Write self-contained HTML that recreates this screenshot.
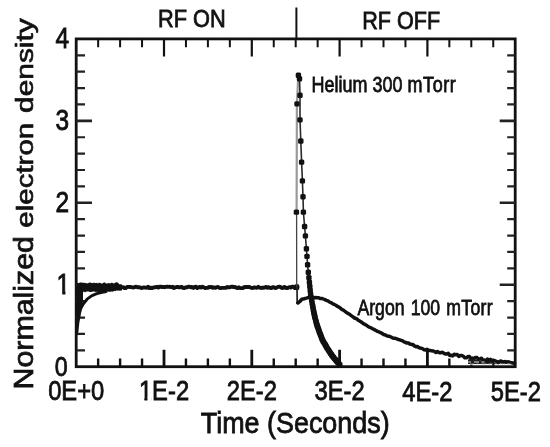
<!DOCTYPE html>
<html lang="en"><head><meta charset="utf-8"><title>Normalized electron density vs time</title>
<style>
html,body{margin:0;padding:0;background:#fff;}
body{width:550px;height:447px;overflow:hidden;}
svg{display:block;filter:blur(0.45px);}
</style></head><body>
<svg width="550" height="447" viewBox="0 0 550 447">
<rect width="550" height="447" fill="#fff"/>
<rect x="76.20" y="38.90" width="439.00" height="327.80" fill="none" stroke="#111" stroke-width="2.8"/>
<path d="M164.00 38.90v17.5 M251.80 38.90v17.5 M339.60 38.90v17.5 M427.40 38.90v17.5" stroke="#111" stroke-width="2.2" fill="none"/>
<path d="M98.15 38.90v8.4 M120.10 38.90v8.4 M142.05 38.90v8.4 M185.95 38.90v8.4 M207.90 38.90v8.4 M229.85 38.90v8.4 M273.75 38.90v8.4 M295.70 38.90v8.4 M317.65 38.90v8.4 M361.55 38.90v8.4 M383.50 38.90v8.4 M405.45 38.90v8.4 M449.35 38.90v8.4 M471.30 38.90v8.4 M493.25 38.90v8.4" stroke="#111" stroke-width="2.0" fill="none"/>
<path d="M164.00 366.70v-17.0 M251.80 366.70v-17.0 M339.60 366.70v-17.0 M427.40 366.70v-17.0" stroke="#111" stroke-width="2.8" fill="none"/>
<path d="M98.15 366.70v-8.2 M120.10 366.70v-8.2 M142.05 366.70v-8.2 M185.95 366.70v-8.2 M207.90 366.70v-8.2 M229.85 366.70v-8.2 M273.75 366.70v-8.2 M295.70 366.70v-8.2 M317.65 366.70v-8.2 M361.55 366.70v-8.2 M383.50 366.70v-8.2 M405.45 366.70v-8.2 M449.35 366.70v-8.2 M471.30 366.70v-8.2 M493.25 366.70v-8.2" stroke="#111" stroke-width="2.4" fill="none"/>
<path d="M76.20 284.75h15.8 M76.20 202.80h15.8 M76.20 120.85h15.8" stroke="#222" stroke-width="2.6" fill="none"/>
<path d="M76.20 350.31h8.8 M76.20 333.92h8.8 M76.20 317.53h8.8 M76.20 301.14h8.8 M76.20 268.36h8.8 M76.20 251.97h8.8 M76.20 235.58h8.8 M76.20 219.19h8.8 M76.20 186.41h8.8 M76.20 170.02h8.8 M76.20 153.63h8.8 M76.20 137.24h8.8 M76.20 104.46h8.8 M76.20 88.07h8.8 M76.20 71.68h8.8 M76.20 55.29h8.8" stroke="#222" stroke-width="2.2" fill="none"/>
<path d="M515.20 284.75h-15.5 M515.20 202.80h-15.5 M515.20 120.85h-15.5" stroke="#222" stroke-width="2.6" fill="none"/>
<path d="M515.20 350.31h-8.0 M515.20 333.92h-8.0 M515.20 317.53h-8.0 M515.20 301.14h-8.0 M515.20 268.36h-8.0 M515.20 251.97h-8.0 M515.20 235.58h-8.0 M515.20 219.19h-8.0 M515.20 186.41h-8.0 M515.20 170.02h-8.0 M515.20 153.63h-8.0 M515.20 137.24h-8.0 M515.20 104.46h-8.0 M515.20 88.07h-8.0 M515.20 71.68h-8.0 M515.20 55.29h-8.0" stroke="#222" stroke-width="2.2" fill="none"/>
<path d="M296.4 7.5V38.90" stroke="#111" stroke-width="2" fill="none"/>
<path d="M77.0 282.8 L78.0 283.2 L79.0 283.1 L80.0 282.4 L81.0 282.4 L82.0 282.4 L83.0 282.9 L84.0 282.5 L85.0 283.2 L86.0 283.1 L87.0 283.7 L88.0 283.5 L89.0 282.5 L90.0 282.7 L91.0 282.6 L92.0 283.2 L93.0 283.1 L94.0 282.4 L95.0 283.3 L96.0 282.7 L97.0 282.9 L98.0 283.4 L99.0 282.6 L100.0 283.0 L101.0 283.3 L102.0 283.7 L103.0 282.9 L104.0 282.5 L105.0 282.4 L106.0 283.4 L107.0 283.5 L108.0 283.3 L109.0 283.1 L110.0 283.5 L111.0 283.0 L112.0 282.4 L113.0 283.2 L114.0 283.5 L115.0 282.8 L116.0 282.3 L117.0 282.5 L118.0 282.4 L119.0 284.1 L120.0 284.4 L121.0 284.0 L122.0 284.7 L122.0 290.8 L121.0 290.3 L120.0 290.9 L119.0 290.3 L118.0 291.0 L117.0 290.3 L116.0 290.8 L115.0 291.2 L114.0 290.8 L113.0 291.7 L112.0 291.5 L111.0 291.5 L110.0 292.0 L109.0 291.5 L108.0 291.7 L107.0 291.5 L106.0 291.9 L105.0 292.1 L104.0 291.9 L103.0 292.2 L102.0 291.4 L101.0 291.6 L100.0 292.4 L99.0 292.0 L98.0 292.1 L97.0 291.7 L96.0 292.0 L95.0 291.8 L94.0 291.5 L93.0 291.4 L92.0 291.7 L91.0 292.0 L90.0 292.3 L89.0 291.4 L88.0 291.6 L87.0 291.4 L86.0 291.8 L85.0 292.4 L84.0 291.6 L83.0 292.3 L82.0 291.4 L81.0 291.8 L80.0 291.9 L79.0 291.7 L78.0 291.4 L77.0 291.5Z" fill="#111"/>
<path d="M118.0 287.9 L119.3 287.9 L120.6 287.1 L121.9 287.3 L123.2 287.2 L124.5 288.0 L125.8 288.1 L127.1 286.9 L128.4 286.9 L129.7 287.0 L131.0 287.0 L132.3 287.4 L133.6 287.5 L134.9 287.0 L136.2 286.7 L137.5 287.3 L138.8 287.2 L140.1 287.5 L141.4 288.1 L142.7 287.7 L144.0 287.4 L145.3 287.6 L146.6 287.7 L147.9 286.7 L149.2 288.0 L150.5 287.8 L151.8 288.0 L153.1 287.8 L154.4 287.2 L155.7 287.2 L157.0 286.8 L158.3 287.6 L159.6 286.7 L160.9 286.8 L162.2 287.0 L163.5 286.9 L164.8 287.2 L166.1 286.7 L167.4 286.7 L168.7 286.9 L170.0 286.8 L171.3 287.2 L172.6 286.7 L173.9 288.0 L175.2 287.6 L176.5 286.9 L177.8 287.0 L179.1 287.2 L180.4 287.2 L181.7 286.8 L183.0 287.9 L184.3 288.1 L185.6 287.3 L186.9 287.4 L188.2 286.8 L189.5 286.8 L190.8 287.2 L192.1 287.0 L193.4 287.9 L194.7 286.9 L196.0 286.7 L197.3 288.1 L198.6 287.4 L199.9 286.9 L201.2 287.5 L202.5 286.7 L203.8 287.4 L205.1 288.1 L206.4 287.9 L207.7 287.7 L209.0 287.0 L210.3 287.2 L211.6 286.9 L212.9 287.8 L214.2 287.4 L215.5 287.8 L216.8 287.1 L218.1 287.0 L219.4 287.9 L220.7 288.1 L222.0 287.9 L223.3 287.9 L224.6 287.9 L225.9 287.8 L227.2 287.0 L228.5 287.4 L229.8 287.2 L231.1 286.7 L232.4 286.7 L233.7 287.1 L235.0 287.0 L236.3 287.7 L237.6 288.1 L238.9 287.3 L240.2 288.1 L241.5 288.1 L242.8 288.1 L244.1 287.2 L245.4 287.0 L246.7 287.0 L248.0 286.9 L249.3 287.0 L250.6 287.6 L251.9 288.0 L253.2 287.9 L254.5 287.4 L255.8 287.6 L257.1 287.8 L258.4 286.8 L259.7 287.6 L261.0 288.0 L262.3 287.8 L263.6 287.8 L264.9 287.4 L266.2 286.9 L267.5 287.8 L268.8 287.1 L270.1 287.9 L271.4 288.1 L272.7 287.2 L274.0 287.3 L275.3 288.1 L276.6 287.7 L277.9 286.9 L279.2 286.8 L280.5 286.9 L281.8 288.0 L283.1 287.9 L284.4 286.9 L285.7 287.9 L287.0 288.1 L288.3 287.6 L289.6 287.2 L290.9 287.5 L292.2 286.8 L293.5 286.7 L294.8 288.1 L296.1 287.6 L297.4 287.0" stroke="#111" stroke-width="3.9" fill="none" stroke-linejoin="round" stroke-linecap="round" />
<rect x="294.6" y="284.2" width="4.6" height="5.8" rx="1.2" fill="#111"/>
<path d="M79.2 313.0 L80.2 309.5 L83.0 304.3 L87.4 298.9 L92.0 295.6 L96.8 293.6 L101.0 292.5 L106.0 291.5" stroke="#111" stroke-width="3.0" fill="none" stroke-linejoin="round" stroke-linecap="round" />
<path d="M77 284 L83 290 L83 300 L81.6 310 L80.2 318 L79.3 323 L78.4 332 L77 336Z" fill="#111"/>
<path d="M296.7 287.0 L296.6 212.0" stroke="#444" stroke-width="1.3" fill="none" stroke-linejoin="round" stroke-linecap="round" />
<path d="M296.6 212.0 L296.9 104.0 L298.3 76.0" stroke="#9a9a9a" stroke-width="2.2" fill="none" stroke-linejoin="round" stroke-linecap="round" />
<path d="M297.0 287.0 L297.2 302.5 L298.5 303.3" stroke="#222" stroke-width="1.7" fill="none" stroke-linejoin="round" stroke-linecap="round" />
<path d="M298.4 75.3 L299.5 78.8 L300.0 95.3 L300.0 119.9 L300.8 141.0 L301.6 162.1 L302.4 180.9 L303.0 196.8 L303.4 212.1 L304.6 226.5 L305.4 235.9 L306.4 248.8 L307.0 256.4 L307.6 264.8 L308.3 272.3 L308.9 277.6" stroke="#2a2a2a" stroke-width="1.6" fill="none" stroke-linejoin="round" stroke-linecap="round" />
<g fill="#111"><rect x="295.7" y="72.6" width="5.4" height="5.4" rx="1.5"/><rect x="296.8" y="76.1" width="5.4" height="5.4" rx="1.5"/><rect x="297.3" y="92.6" width="5.4" height="5.4" rx="1.5"/><rect x="297.3" y="117.2" width="5.4" height="5.4" rx="1.5"/><rect x="298.1" y="138.3" width="5.4" height="5.4" rx="1.5"/><rect x="298.9" y="159.4" width="5.4" height="5.4" rx="1.5"/><rect x="299.7" y="178.2" width="5.4" height="5.4" rx="1.5"/><rect x="300.3" y="194.1" width="5.4" height="5.4" rx="1.5"/><rect x="300.7" y="209.4" width="5.4" height="5.4" rx="1.5"/><rect x="301.9" y="223.8" width="5.4" height="5.4" rx="1.5"/><rect x="302.7" y="233.2" width="5.4" height="5.4" rx="1.5"/><rect x="303.7" y="246.1" width="5.4" height="5.4" rx="1.5"/><rect x="304.3" y="253.7" width="5.4" height="5.4" rx="1.5"/><rect x="304.9" y="262.1" width="5.4" height="5.4" rx="1.5"/><rect x="305.6" y="269.6" width="5.4" height="5.4" rx="1.5"/><rect x="306.2" y="274.9" width="5.4" height="5.4" rx="1.5"/><rect x="294.3" y="101.2" width="5.4" height="5.4" rx="1.5"/><rect x="293.7" y="209.4" width="5.4" height="5.4" rx="1.5"/><rect x="306.7" y="279.5" width="5.4" height="5.4" rx="1.5"/><rect x="307.1" y="283.7" width="5.4" height="5.4" rx="1.5"/><rect x="307.5" y="287.6" width="5.4" height="5.4" rx="1.5"/><rect x="307.9" y="291.2" width="5.4" height="5.4" rx="1.5"/><rect x="308.4" y="294.4" width="5.4" height="5.4" rx="1.5"/><rect x="309.0" y="297.4" width="5.4" height="5.4" rx="1.5"/><rect x="309.4" y="300.2" width="5.4" height="5.4" rx="1.5"/><rect x="309.9" y="302.8" width="5.4" height="5.4" rx="1.5"/><rect x="310.3" y="305.1" width="5.4" height="5.4" rx="1.5"/><rect x="310.7" y="307.3" width="5.4" height="5.4" rx="1.5"/><rect x="311.1" y="309.3" width="5.4" height="5.4" rx="1.5"/><rect x="311.5" y="311.1" width="5.4" height="5.4" rx="1.5"/><rect x="311.8" y="312.8" width="5.4" height="5.4" rx="1.5"/><rect x="312.2" y="314.3" width="5.4" height="5.4" rx="1.5"/><rect x="312.6" y="315.9" width="5.4" height="5.4" rx="1.5"/><rect x="313.0" y="317.4" width="5.4" height="5.4" rx="1.5"/><rect x="313.4" y="319.0" width="5.4" height="5.4" rx="1.5"/><rect x="313.8" y="320.5" width="5.4" height="5.4" rx="1.5"/><rect x="314.2" y="322.1" width="5.4" height="5.4" rx="1.5"/><rect x="314.7" y="323.6" width="5.4" height="5.4" rx="1.5"/><rect x="315.3" y="325.1" width="5.4" height="5.4" rx="1.5"/><rect x="315.8" y="326.6" width="5.4" height="5.4" rx="1.5"/><rect x="316.3" y="328.1" width="5.4" height="5.4" rx="1.5"/><rect x="316.8" y="329.6" width="5.4" height="5.4" rx="1.5"/><rect x="317.4" y="331.1" width="5.4" height="5.4" rx="1.5"/><rect x="318.0" y="332.6" width="5.4" height="5.4" rx="1.5"/><rect x="318.6" y="334.1" width="5.4" height="5.4" rx="1.5"/><rect x="319.1" y="335.6" width="5.4" height="5.4" rx="1.5"/><rect x="319.7" y="337.1" width="5.4" height="5.4" rx="1.5"/><rect x="320.5" y="338.5" width="5.4" height="5.4" rx="1.5"/><rect x="321.3" y="339.9" width="5.4" height="5.4" rx="1.5"/><rect x="322.1" y="341.2" width="5.4" height="5.4" rx="1.5"/><rect x="322.9" y="342.6" width="5.4" height="5.4" rx="1.5"/><rect x="323.7" y="344.0" width="5.4" height="5.4" rx="1.5"/><rect x="324.5" y="345.4" width="5.4" height="5.4" rx="1.5"/><rect x="325.4" y="346.7" width="5.4" height="5.4" rx="1.5"/><rect x="326.2" y="348.1" width="5.4" height="5.4" rx="1.5"/><rect x="327.1" y="349.4" width="5.4" height="5.4" rx="1.5"/><rect x="328.0" y="350.8" width="5.4" height="5.4" rx="1.5"/><rect x="328.9" y="352.1" width="5.4" height="5.4" rx="1.5"/><rect x="329.8" y="353.4" width="5.4" height="5.4" rx="1.5"/><rect x="330.8" y="354.6" width="5.4" height="5.4" rx="1.5"/><rect x="331.8" y="355.9" width="5.4" height="5.4" rx="1.5"/><rect x="332.9" y="357.1" width="5.4" height="5.4" rx="1.5"/><rect x="333.9" y="358.3" width="5.4" height="5.4" rx="1.5"/><rect x="335.0" y="359.5" width="5.4" height="5.4" rx="1.5"/><rect x="336.0" y="360.7" width="5.4" height="5.4" rx="1.5"/><rect x="337.1" y="361.9" width="5.4" height="5.4" rx="1.5"/></g>
<path d="M308.9 277.6 L310.5 293.5 L312.6 305.5 L314.6 316.1 L317.0 325.0 L319.5 332.3 L322.5 340.0 L327.4 348.4 L332.0 355.5 L336.8 361.3 L340.5 365.3" stroke="#111" stroke-width="2.0" fill="none" stroke-linejoin="round" stroke-linecap="round" />
<path d="M297.8 303.0 L299.6 301.7 L301.8 299.3 L304.0 298.8 L306.4 298.1 L307.9 297.6 L309.5 297.5 L311.1 297.6 L312.7 297.5 L314.2 297.8 L315.8 297.6 L317.3 297.7 L318.8 297.8 L320.3 298.6 L321.8 298.4 L323.3 299.0 L324.9 299.6 L326.4 300.3 L327.9 300.8 L329.4 302.0 L330.9 302.6 L332.4 303.5 L334.0 304.4 L335.5 305.0 L337.0 306.2 L338.5 306.9 L340.0 307.8 L341.5 309.3 L343.0 309.8 L344.5 311.0 L346.0 312.2 L347.7 313.2 L349.4 314.2 L351.0 315.5 L352.7 316.6 L354.5 318.0 L356.4 318.7 L358.2 320.2 L360.1 321.3 L362.0 322.5 L363.4 323.7 L364.8 324.3 L366.3 325.2 L367.7 326.2 L369.1 327.1 L370.8 327.7 L372.6 328.7 L374.3 329.6 L376.0 330.5 L377.5 331.4 L379.0 331.9 L380.6 332.7 L382.1 333.4 L383.6 334.5 L385.1 334.9 L386.6 335.6 L388.0 336.2 L389.5 336.3 L391.0 337.0 L392.4 337.8 L393.9 338.3 L395.3 338.3 L396.8 338.8 L398.2 339.6 L399.7 339.8 L401.1 340.4 L402.6 340.8 L404.0 341.8 L405.5 342.4 L406.9 343.1 L408.4 342.9 L409.8 344.0 L411.3 344.4 L412.7 344.4 L414.3 345.9 L416.0 346.7 L417.6 346.5 L419.3 348.1 L420.9 348.1 L422.4 348.6 L423.9 349.7 L425.4 349.9 L426.9 349.3 L428.5 350.1 L430.0 350.6 L431.5 350.7 L433.0 350.9 L434.5 351.5 L436.0 352.5 L437.5 351.5 L439.1 352.7 L440.6 352.8 L442.1 352.2 L443.6 353.1 L445.2 353.9 L446.7 354.0 L448.2 353.3 L449.7 355.5 L451.2 355.3 L452.7 356.0 L454.2 354.2 L455.8 354.8 L457.3 354.5 L458.8 356.5 L460.3 355.5 L461.8 355.4 L463.3 356.3 L464.8 357.8 L466.4 357.8 L467.9 356.6 L469.4 356.6 L470.9 358.7 L472.5 358.1 L474.0 358.7 L475.5 357.4 L477.0 357.5 L478.5 359.3 L480.0 358.8 L481.5 358.2 L483.0 360.6 L484.5 360.0 L486.0 360.6 L487.5 359.0 L489.0 361.2 L490.5 359.4 L492.0 361.6 L493.6 360.8 L495.1 360.7 L496.6 361.5 L498.1 362.6 L499.7 361.2 L501.2 361.1 L502.7 362.3 L504.2 361.7 L505.6 361.6 L507.1 361.9 L508.6 361.8 L510.1 362.3 L511.6 362.8 L513.0 362.9 L514.5 363.6" stroke="#111" stroke-width="3.5" fill="none" stroke-linejoin="round" stroke-linecap="round" />
<path d="M468.0 359.8 L469.3 359.1 L470.6 359.7 L471.9 359.3 L473.2 359.7 L474.5 359.3 L475.8 359.8 L477.1 359.6 L478.4 361.0 L479.7 360.8 L481.0 360.3 L482.3 361.0 L483.6 361.9 L484.9 360.6 L486.2 362.0 L487.5 361.5 L488.8 361.8 L490.1 362.5 L491.4 361.9 L492.7 362.2 L494.0 362.7 L495.3 363.3 L496.6 362.4 L497.9 363.4 L499.2 363.3 L500.5 363.4 L501.8 363.1 L503.1 363.2 L504.4 362.8 L505.7 363.1 L507.0 363.1 L508.3 364.4 L509.6 363.8 L510.9 363.8 L512.2 363.8 L513.5 365.2 L514.5 364.0 L468.0 364.0Z" fill="#1c1c1c"/>
<path d="M452 364.4H470" stroke="#bbb" stroke-width="0" fill="none"/>
<path d="M470 364.2H513" stroke="#d8d8d8" stroke-width="1.0" stroke-dasharray="4 2.5 2 3 5 2" fill="none"/>
<path d="M468 362.0H486" stroke="#e0e0e0" stroke-width="1.0" stroke-dasharray="3 3 5 2.5" fill="none"/>
<clipPath id="c1y"><path d="M-400 -60H400V-2.58H-400Z M-7.78 -3.58H-4.75V8H-7.78Z M-0.38 -3.58H400V12H-0.38Z"/></clipPath>
<clipPath id="c1x"><path d="M-400 -60H400V-2.45H-400Z M-19.78 -3.45H-16.75V8H-19.78Z M-12.38 -3.45H400V12H-12.38Z"/></clipPath>
<g fill="#111" stroke="#111" stroke-width="0.7" font-family="'Liberation Sans', sans-serif">
<text transform="translate(158.0 27.2) scale(0.99 1.12)" font-size="22" text-anchor="start">RF ON</text>
<text transform="translate(362.3 28.6) scale(0.98 1.12)" font-size="22" text-anchor="start">RF OFF</text>
<text transform="translate(67.8 376.2) scale(0.97 1.19)" font-size="24" text-anchor="end">0</text>
<text transform="translate(70.2 294.05) scale(1.02 1.19)" font-size="24" text-anchor="end" clip-path="url(#c1y)">1</text>
<text transform="translate(69.0 212.1) scale(1.02 1.19)" font-size="24" text-anchor="end">2</text>
<text transform="translate(69.0 130.15) scale(1.02 1.19)" font-size="24" text-anchor="end">3</text>
<text transform="translate(69.0 48.2) scale(1.02 1.19)" font-size="24" text-anchor="end">4</text>
<text transform="translate(76.2 399.6) scale(0.99 1.16)" font-size="24" text-anchor="middle">0E+0</text>
<text transform="translate(164.0 399.85) scale(0.99 1.16)" font-size="24" text-anchor="middle" clip-path="url(#c1x)">1E-2</text>
<text transform="translate(251.8 400.1) scale(0.99 1.16)" font-size="24" text-anchor="middle">2E-2</text>
<text transform="translate(339.6 400.35) scale(0.99 1.16)" font-size="24" text-anchor="middle">3E-2</text>
<text transform="translate(427.4 400.6) scale(0.99 1.16)" font-size="24" text-anchor="middle">4E-2</text>
<text transform="translate(515.8 400.85) scale(0.99 1.16)" font-size="24" text-anchor="middle">5E-2</text>
<text transform="translate(295.2 433.0) scale(1.035 1.16)" font-size="26" text-anchor="middle">Time (Seconds)</text>
<text transform="translate(32.5 389.5) rotate(-90) scale(1.167 1.03)" font-size="26" text-anchor="start">Normalized </text>
<text transform="translate(32.5 227.7) rotate(-90) scale(1.135 0.95)" font-size="26" text-anchor="start">electron </text>
<text transform="translate(32.5 113.0) rotate(-90) scale(1.15 0.93)" font-size="26" text-anchor="start">density</text>
<text transform="translate(311.6 92.4) scale(0.9 1.13)" font-size="20" text-anchor="start">Helium 300 <tspan letter-spacing="0.65">mTorr</tspan></text>
<text transform="translate(357.4 314.6) scale(0.885 1.12)" font-size="20" text-anchor="start"><tspan word-spacing="1.3">Argon 100 </tspan><tspan letter-spacing="0.35">mTorr</tspan></text>
</g>
</svg>
</body></html>
